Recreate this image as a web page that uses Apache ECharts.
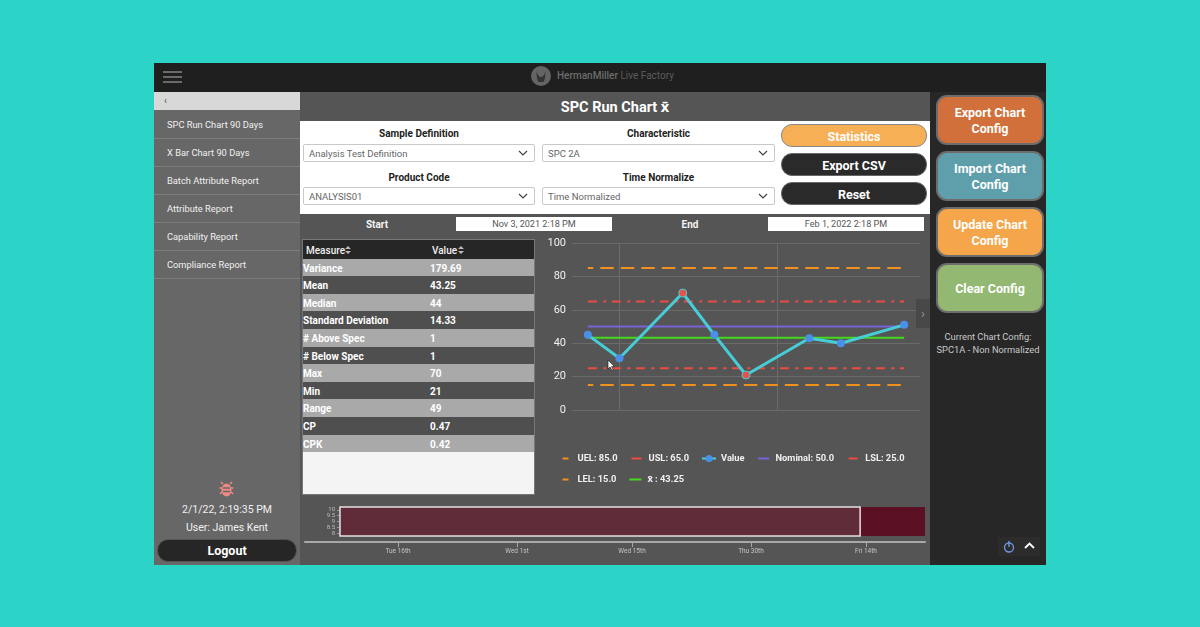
<!DOCTYPE html>
<html><head><meta charset="utf-8">
<script src="https://cdn.jsdelivr.net/npm/echarts@6/dist/echarts.min.js"></script>
<style>
html,body{margin:0;padding:0;width:1200px;height:627px;overflow:hidden;background:#2bd4c6;font-family:Roboto,"Open Sans",sans-serif;}
.a{position:absolute;box-sizing:border-box;}
.c{display:flex;align-items:center;justify-content:center;text-align:center;}
#chart{position:absolute;left:0;top:0;width:1200px;height:627px;}
.side{left:154px;width:146px;height:28px;border-bottom:1px solid #7d7d7d;color:#f0f0f0;font-size:9.3px;line-height:27.5px;padding-left:13px;}
.lab{font-size:10px;font-weight:700;color:#222;}
.sel{height:18px;background:#fff;border:1px solid #c9c9c9;border-radius:2px;color:#666;font-size:9.5px;line-height:18.5px;padding-left:5px;}
.sel svg{position:absolute;right:6px;top:4px;}
.sb{left:781px;width:146px;height:23px;border-radius:11px;font-size:12.5px;font-weight:700;color:#fff;background:#2a2a2a;border:1px solid #666;padding-top:1px;}
.date{background:#fff;color:#555;font-size:9.1px;height:14px;top:217px;width:156px;}
.rb{left:936px;width:108px;height:50px;border-radius:11px;border:2px solid #6d6d6d;color:#fff;font-size:12.5px;font-weight:700;line-height:15.5px;padding-top:1px;}
.row{left:303px;width:231px;height:17.6px;font-size:10px;font-weight:700;color:#fff;line-height:19px;}
.row span{position:absolute;}
.sort{position:absolute;top:5px;}
</style></head><body>
<div class="a" style="left:154px;top:63px;width:892px;height:502px;background:#555"></div>
<div class="a" style="left:154px;top:63px;width:892px;height:29px;background:#1f1f1f"></div>
<div class="a" style="left:163px;top:71px;width:19px;height:2px;background:#6a6a6a"></div>
<div class="a" style="left:163px;top:76px;width:19px;height:2px;background:#6a6a6a"></div>
<div class="a" style="left:163px;top:81px;width:19px;height:2px;background:#6a6a6a"></div>
<svg class="a" style="left:531px;top:66px" width="20" height="20" viewBox="0 0 20 20"><circle cx="10" cy="10" r="10" fill="#646464"/><path d="M5.5 5 Q5.5 13 7.5 16 H12.5 Q14.5 13 14.5 5 Q13 11 10 11 Q7 11 5.5 5Z" fill="#333"/></svg>
<div class="a" style="left:557px;top:70px;font-size:10px;color:#6c6c6c;white-space:nowrap"><span style="font-weight:500">HermanMiller</span> <span style="color:#5c5c5c">Live Factory</span></div>

<div class="a" style="left:154px;top:92px;width:146px;height:473px;background:#676767"></div>
<div class="a" style="left:154px;top:92px;width:146px;height:18px;background:#d8d8d8;color:#555;font-size:10px;line-height:17px;padding-left:10px">‹</div>
<div class="a side" style="top:111px">SPC Run Chart 90 Days</div>
<div class="a side" style="top:139px">X Bar Chart 90 Days</div>
<div class="a side" style="top:167px">Batch Attribute Report</div>
<div class="a side" style="top:195px">Attribute Report</div>
<div class="a side" style="top:223px">Capability Report</div>
<div class="a side" style="top:251px">Compliance Report</div>
<svg class="a" style="left:219px;top:481px" width="15" height="16" viewBox="0 0 15 16"><path d="M4 3 L2 1 M11 3 L13 1 M3 7 H0.5 M12 7 H14.5 M3 11 L1 13 M12 11 L14 13" stroke="#ee8a84" stroke-width="1.5"/><ellipse cx="7.5" cy="9" rx="5" ry="6.5" fill="#ee8a84"/><path d="M4 7 H11 M4 10.5 H11" stroke="#676767" stroke-width="1.3"/></svg>
<div class="a c" style="left:154px;top:501px;width:146px;height:16px;color:#f0f0f0;font-size:10.5px">2/1/22, 2:19:35 PM</div>
<div class="a c" style="left:154px;top:519px;width:146px;height:16px;color:#f0f0f0;font-size:10.5px">User: James Kent</div>
<div class="a c" style="left:157px;top:539px;width:140px;height:23px;border-radius:11px;background:#262626;border:1px solid #555;color:#fff;font-size:12.5px;font-weight:700">Logout</div>

<div class="a c" style="left:300px;top:92px;width:630px;height:29px;color:#fff;font-size:14.5px;font-weight:700">SPC Run Chart x̄</div>
<div class="a" style="left:300px;top:121px;width:630px;height:93px;background:#fff"></div>
<div class="a c lab" style="left:303px;top:126px;width:232px;height:14px">Sample Definition</div>
<div class="a c lab" style="left:542px;top:126px;width:233px;height:14px">Characteristic</div>
<div class="a c lab" style="left:303px;top:170px;width:232px;height:14px">Product Code</div>
<div class="a c lab" style="left:542px;top:170px;width:233px;height:14px">Time Normalize</div>
<div class="a sel" style="left:303px;top:144px;width:232px">Analysis Test Definition<svg width="10" height="8"><path d="M1 2 L5 6 L9 2" fill="none" stroke="#444" stroke-width="1.2"/></svg></div>
<div class="a sel" style="left:542px;top:144px;width:233px">SPC 2A<svg width="10" height="8"><path d="M1 2 L5 6 L9 2" fill="none" stroke="#444" stroke-width="1.2"/></svg></div>
<div class="a sel" style="left:303px;top:187px;width:232px">ANALYSIS01<svg width="10" height="8"><path d="M1 2 L5 6 L9 2" fill="none" stroke="#444" stroke-width="1.2"/></svg></div>
<div class="a sel" style="left:542px;top:187px;width:233px">Time Normalized<svg width="10" height="8"><path d="M1 2 L5 6 L9 2" fill="none" stroke="#444" stroke-width="1.2"/></svg></div>
<div class="a c sb" style="top:124px;background:#f6af55;border-color:#888">Statistics</div>
<div class="a c sb" style="top:153px">Export CSV</div>
<div class="a c sb" style="top:182px">Reset</div>

<div class="a c" style="left:300px;top:217px;width:154px;height:15px;color:#f4f4f4;font-size:10px;font-weight:700">Start</div>
<div class="a c date" style="left:456px">Nov 3, 2021 2:18 PM</div>
<div class="a c" style="left:612px;top:217px;width:156px;height:15px;color:#f4f4f4;font-size:10px;font-weight:700">End</div>
<div class="a c date" style="left:768px">Feb 1, 2022 2:18 PM</div>

<div class="a" style="left:302px;top:239px;width:233px;height:256px;background:#f4f4f4;border:1px solid #777"></div>
<div class="a" style="left:303px;top:240px;width:231px;height:19px;background:#262626;color:#f0f0f0;font-size:10px;font-weight:500;line-height:21px">
<span class="a" style="left:3px">Measure</span><svg class="sort" style="left:42px" width="6" height="10"><path d="M0 4 L3 1 L6 4Z M0 6 L3 9 L6 6Z" fill="#bbb"/></svg>
<span class="a" style="left:129px">Value</span><svg class="sort" style="left:155px" width="6" height="10"><path d="M0 4 L3 1 L6 4Z M0 6 L3 9 L6 6Z" fill="#bbb"/></svg></div>
<div id="rows"></div>

<div id="chart"></div>

<div class="a c" style="left:916px;top:299px;width:14px;height:29px;background:#484848;color:#999;font-size:13px">›</div>
<svg class="a" style="left:607px;top:360px" width="8" height="11" viewBox="0 0 8 11"><path d="M1 0 V9 L3 7 L5 10.5 L6.3 10 L4.6 6.6 L7.5 6.6 Z" fill="#fff" stroke="#222" stroke-width=".7"/></svg>

<div class="a" style="left:930px;top:92px;width:116px;height:473px;background:#272727"></div>
<div class="a c rb" style="top:95px;background:#d2703b">Export Chart<br>Config</div>
<div class="a c rb" style="top:151px;background:#5f9fab">Import Chart<br>Config</div>
<div class="a c rb" style="top:207px;background:#f5a54a">Update Chart<br>Config</div>
<div class="a c rb" style="top:263px;background:#92b872">Clear Config</div>
<div class="a c" style="left:930px;top:329px;width:116px;height:28px;color:#c8c8c8;font-size:9.3px;line-height:13px">Current Chart Config:<br>SPC1A - Non Normalized</div>
<div class="a" style="left:998px;top:537px;width:42px;height:19px;background:#2c2c2c"></div>
<svg class="a" style="left:1003px;top:540px" width="12" height="13" viewBox="0 0 12 13"><circle cx="6" cy="7.5" r="4.5" fill="none" stroke="#6f97e0" stroke-width="1.3"/><path d="M6 1 V7" stroke="#6f97e0" stroke-width="1.4"/></svg>
<svg class="a" style="left:1023px;top:541px" width="13" height="10" viewBox="0 0 13 10"><path d="M2 7 L6.5 2.5 L11 7" fill="none" stroke="#fff" stroke-width="1.8"/></svg>

<script>
// Statistics table
var statNames = ['Variance','Mean','Median','Standard Deviation','# Above Spec','# Below Spec','Max','Min','Range','CP','CPK'];
var statValues = ['179.69','43.25','44','14.33','1','1','70','21','49','0.47','0.42'];
// Run chart: sample slots on the x axis and measured values
var sampleSlots = [0,1,3,4,5,7,8,10];
var sampleValues = [45,31,70,45,21,43,40,51];
var gridSlots = [1,6];
// Limits
var uel = 85, usl = 65, nominal = 50, lsl = 25, lel = 15, mean = 43.25;
var slotRange = [0,10];
// Navigator
var navTickDays = [15,30,44.5,59.5,74];
var navTickLabels = ['Tue 16th','Wed 1st','Wed 15th','Thu 30th','Fri 14th'];
var navYTicks = [8,8.5,9,9.5,10];
var navYExtent = [7.74,10.26];
var navSpan = [7.68,81.44];
var navSelection = [7.68,73.26];

var rowsHtml = '';
statNames.forEach(function(n,i){
  rowsHtml += '<div class="a row" style="top:'+(258.6+i*17.6)+'px;background:'+(i%2?'#4f4f4f':'#a9a9a9')+'"><span style="left:0">'+n+'</span><span style="left:127px">'+statValues[i]+'</span></div>';
});
document.getElementById('rows').innerHTML = rowsHtml;

function limitLine(name,val,color,dash,offset,width){
  return {name:name,type:'line',xAxisIndex:0,yAxisIndex:0,symbol:'none',silent:true,z:3,
    data:slotRange.map(function(s){return [s,val];}),
    lineStyle:{color:color,width:width||2,type:dash,dashOffset:offset||0},itemStyle:{color:color}};
}
// thin legend bar of a given width centred in the 14x9 legend box
function barIcon(w){
  var x=(14-w)/2;
  return 'path://M0 0h.01v.01zM14 9h-.01v-.01zM'+x+' 3.6h'+w+'v1.8h-'+w+'z';
}
var names = {
  uel:'UEL: '+uel.toFixed(1), usl:'USL: '+usl.toFixed(1), nom:'Nominal: '+nominal.toFixed(1),
  lsl:'LSL: '+lsl.toFixed(1), lel:'LEL: '+lel.toFixed(1), mean:'x̄ : '+mean
};
var orangeDash=[13.5,7], redDash=[9,6.5,3,5.5];
var chart = echarts.init(document.getElementById('chart'),null,{renderer:'canvas'});
chart.setOption({
  animation:false,
  backgroundColor:'transparent',
  textStyle:{fontFamily:'Roboto,"Open Sans",sans-serif'},
  grid:[
    {left:572,top:242.8,width:348,height:167.4},
    {left:305,top:507,width:620,height:29}
  ],
  xAxis:[
    {type:'value',gridIndex:0,min:-0.5,max:10.5,
      axisLine:{show:false},axisLabel:{show:false},
      axisTick:{show:false,customValues:gridSlots},
      splitLine:{show:true,lineStyle:{color:'#6a6a6a',width:1}}},
    {type:'value',gridIndex:1,min:3.27,max:81.44,offset:6,
      axisLine:{show:true,lineStyle:{color:'#a8a8a8',width:2}},
      axisTick:{show:true,length:5,lineStyle:{color:'#a8a8a8'},customValues:navTickDays},
      axisLabel:{show:true,color:'#c4c4c4',fontSize:6.5,margin:6,customValues:navTickDays,
        formatter:function(v){return navTickLabels[navTickDays.indexOf(v)]||'';}},
      splitLine:{show:false}}
  ],
  yAxis:[
    {type:'value',gridIndex:0,min:0,max:100,interval:20,
      axisLine:{show:false},axisTick:{show:false},
      axisLabel:{color:'#f0f0f0',fontSize:11,margin:6,padding:[4,0,0,0]},
      splitLine:{show:true,lineStyle:{color:'#6a6a6a',width:1}}},
    {type:'value',gridIndex:1,min:navYExtent[0],max:navYExtent[1],offset:-34,
      axisLine:{show:false},
      axisTick:{show:true,length:2,lineStyle:{color:'#999'},customValues:navYTicks},
      axisLabel:{color:'#bdbdbd',fontSize:6,lineHeight:5,margin:4,hideOverlap:false,
        customValues:[navYExtent[0]].concat(navYTicks,[navYExtent[1]]),
        formatter:function(v){return navYTicks.indexOf(v)<0?'':String(v);}},
      splitLine:{show:false}}
  ],
  legend:{
    left:558.5,top:454,padding:0,width:360,itemWidth:14,itemHeight:9,itemGap:12,
    textStyle:{color:'#f0f0f0',fontSize:9.3,fontWeight:700,lineHeight:8},
    data:[
      {name:names.uel,icon:barIcon(6)},
      {name:names.usl,icon:barIcon(10)},
      {name:'Value'},
      {name:names.nom,icon:barIcon(11)},
      {name:names.lsl,icon:barIcon(9)},
      {name:names.lel,icon:barIcon(6)},
      {name:names.mean,icon:barIcon(12)}
    ]
  },
  series:[
    limitLine(names.uel,uel,'#f0901e',orangeDash,8),
    limitLine(names.usl,usl,'#ee4b42',redDash,0),
    {name:'Value',type:'line',xAxisIndex:0,yAxisIndex:0,z:6,symbol:'circle',symbolSize:8,
      data:sampleSlots.map(function(s,i){
        var v=sampleValues[i], out=v>usl||v<lsl;
        return {value:[s,v],itemStyle:{color:out?'#e9504a':'#4a90e8',borderColor:'#46cdd6',borderWidth:out?1:0}};
      }),
      lineStyle:{color:'#46cdd6',width:3},itemStyle:{color:'#4a90e8'}},
    limitLine(names.nom,nominal,'#7a62d8','solid',0),
    limitLine(names.lsl,lsl,'#ee4b42',redDash,0),
    limitLine(names.lel,lel,'#f0901e',orangeDash,8),
    limitLine(names.mean,mean,'#46d81e','solid',0,2),
    {name:'Navigator',type:'line',xAxisIndex:1,yAxisIndex:1,symbol:'none',silent:true,z:2,
      data:navSpan.map(function(d){return [d,10.26];}),
      lineStyle:{width:0},areaStyle:{color:'#5b1024',opacity:1,origin:'start'}},
    {name:'Selection',type:'line',xAxisIndex:1,yAxisIndex:1,symbol:'none',silent:true,z:5,
      data:[],
      markArea:{silent:true,z:5,
        itemStyle:{color:'rgba(112,110,110,0.3)',borderColor:'#e6e0e0',borderWidth:1.5},
        data:[[{xAxis:navSelection[0],yAxis:7.74},{xAxis:navSelection[1],yAxis:10.26}]]}}
  ]
});
</script>
</body></html>
